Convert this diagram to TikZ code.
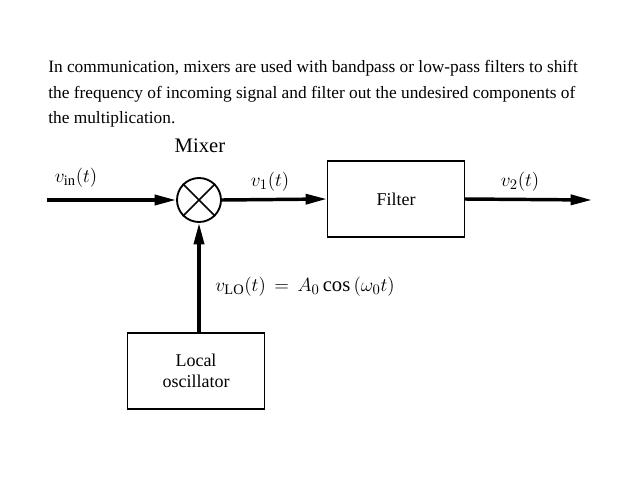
\documentclass[tikz,border=0pt]{standalone}
\usepackage{fontspec}
\setmainfont{Liberation Serif}
\usetikzlibrary{arrows.meta}
\begin{document}
\begin{tikzpicture}[x=0.75pt,y=-0.75pt,
  sig/.style={line width=2.6pt,-{Triangle[length=16pt,width=7.5pt]}},
  blk/.style={draw,line width=0.9pt,minimum width=137*0.75pt,minimum height=76*0.75pt,inner sep=0pt,font=\fontsize{13.5}{16}\selectfont,align=center},
  txt/.style={anchor=west,inner sep=0pt,font=\fontsize{13}{15}\selectfont},
  lbl/.style={font=\fontsize{15.5}{18}\selectfont}]
\useasboundingbox (0,0) rectangle (638,478);
\node[txt] (t1) at (48,68) {In communication, mixers are used with bandpass or low-pass filters to shift};
\node[txt] (t2) at (48,94) {the frequency of incoming signal and filter out the undesired components of};
\node[txt] (t3) at (48,119) {the multiplication.};
\node[draw,circle,line width=1.4pt,minimum size=44*0.75pt,inner sep=0pt] (mix) at (199,200) {};
\draw[line width=1.1pt] (mix.north west) -- (mix.south east) (mix.north east) -- (mix.south west);
\node[lbl] (ml) at (200,146) {Mixer};
\node[blk] (filt) at (396,199) {Filter};
\node[blk] (lo) at (196,371) {Local\\oscillator};
\coordinate (in) at (47,200);
\coordinate (out) at (592,200);
\draw[sig] (in) -- (mix.west);
\draw[sig] (mix.east) -- (filt.west);
\draw[sig] (filt.east) -- (out);
\draw[sig] (lo.north -| mix) -- (mix.south);
\node[lbl] (vin) at (76,178) {$v_{\mathrm{in}}(t)$};
\node[lbl] (v1) at (270,182) {$v_1(t)$};
\node[lbl] (v2) at (520,182) {$v_2(t)$};
\node[lbl] (vlo) at (305,287) {$v_{\mathrm{LO}}(t)\,=\,A_0\cos\left(\omega_0 t\right)$};
\end{tikzpicture}
\end{document}
